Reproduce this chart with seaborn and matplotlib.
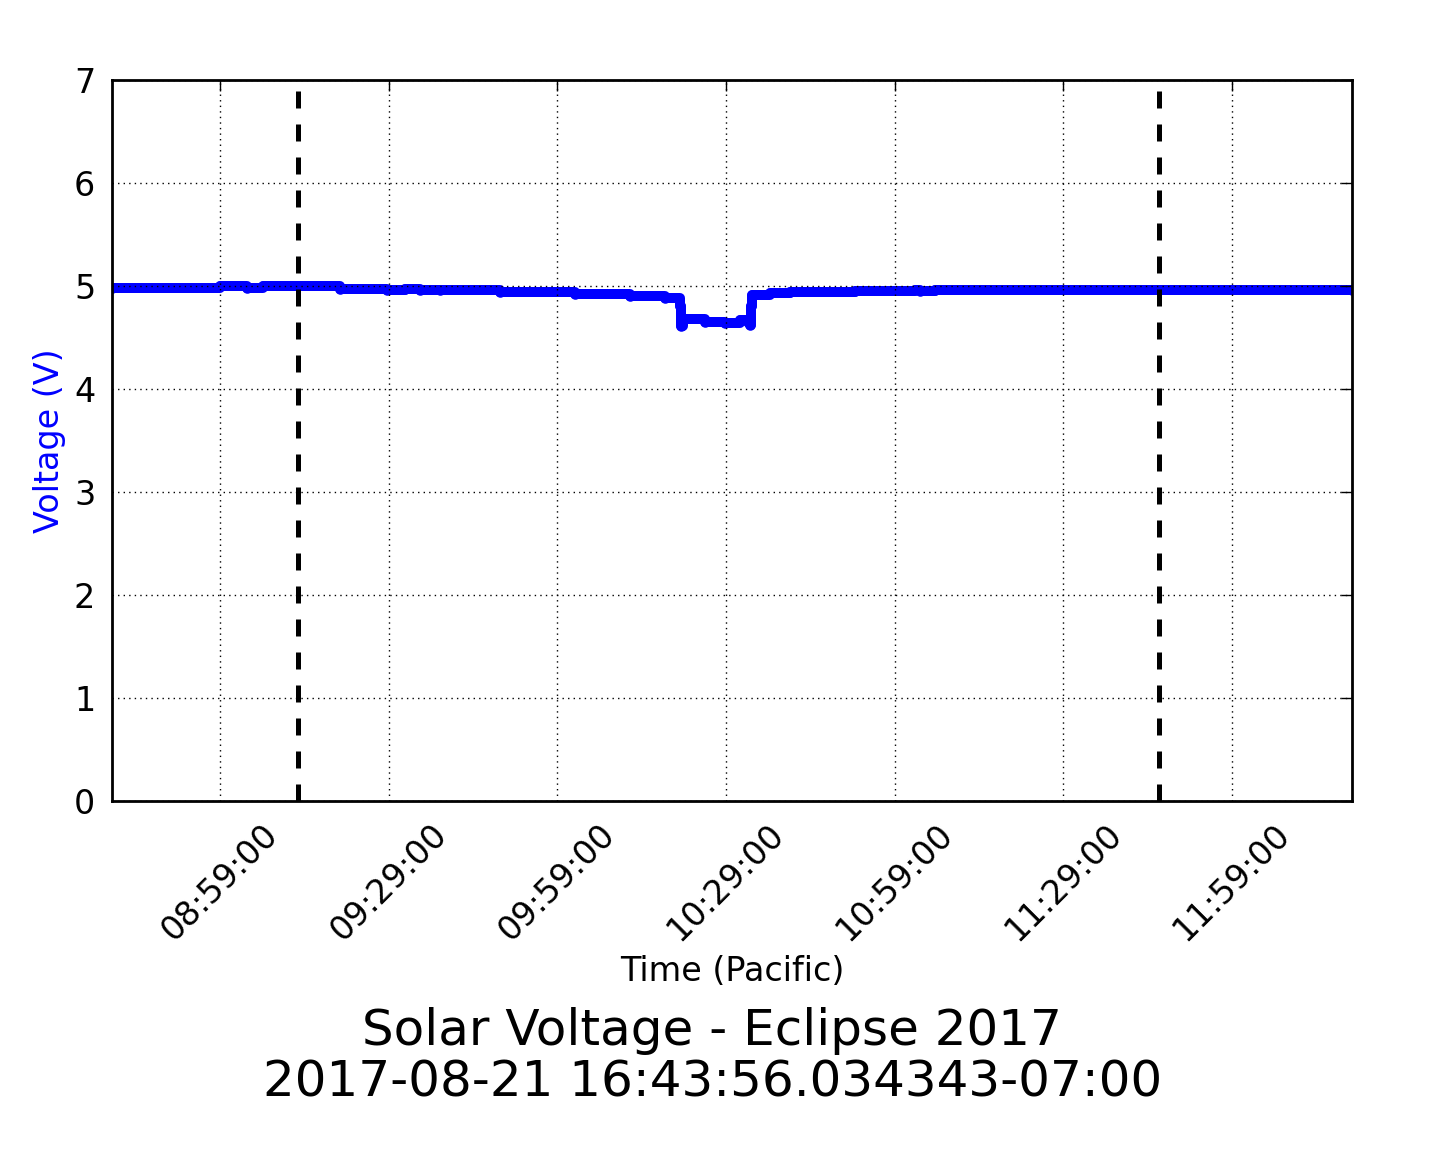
"""
Solar panel voltage during the 2017 eclipse, redrawn with seaborn.
"""

import matplotlib
matplotlib.use('Agg')
import matplotlib.pyplot as plt
import matplotlib.dates as mdates
import seaborn as sns
import pandas as pd

# --- Data ---
day = "2017-08-21 "
sample_times = [
    "08:39:47", "08:59:00", "09:03:48", "09:06:39", "09:20:20", "09:28:42",
    "09:31:55", "09:34:34", "09:38:08", "09:48:48", "10:02:08", "10:11:56",
    "10:18:09", "10:20:49", "10:21:00", "10:21:21", "10:25:16", "10:28:50",
    "10:31:30", "10:32:55", "10:33:16", "10:33:27", "10:33:38", "10:36:50",
    "10:40:23", "10:51:57", "11:02:37", "11:03:31", "11:06:11", "12:20:21",
]
voltage = [
    4.98, 5.00, 4.98, 5.00, 4.97, 4.96,
    4.97, 4.96, 4.96, 4.94, 4.925, 4.90,
    4.885, 4.81, 4.61, 4.68, 4.655, 4.645,
    4.665, 4.655, 4.625, 4.81, 4.91, 4.93,
    4.94, 4.955, 4.965, 4.955, 4.965, 4.965,
]
eclipse_marks = ["09:12:52", "11:46:05"]
tick_times = ["08:59:00", "09:29:00", "09:59:00", "10:29:00",
              "10:59:00", "11:29:00", "11:59:00"]
y_ticks = [0, 1, 2, 3, 4, 5, 6, 7]

df = pd.DataFrame({
    'time': pd.to_datetime([day + t for t in sample_times]),
    'volts': voltage,
})

sns.set_style('white')
plt.rcParams['font.family'] = ['DejaVu Sans']
plt.rcParams['text.color'] = 'black'
plt.rcParams['axes.labelcolor'] = 'black'

fig = plt.figure(figsize=(7.15, 5.745), dpi=200)
ax = fig.add_axes([0.0783, 0.3029, 0.9455 - 0.0783, 0.9304 - 0.3029])

sns.lineplot(data=df, x='time', y='volts', ax=ax, color='blue',
             marker='o', markersize=3.8, markeredgewidth=0,
             linewidth=3.6, drawstyle='steps-post', estimator=None)

# eclipse start / end markers
for t in eclipse_marks:
    ax.axvline(pd.Timestamp(day + t), color='black', linewidth=1.8,
               linestyle=(0, (3.4, 3.2)))

ax.set_xlim(df['time'].iloc[0], df['time'].iloc[-1])
ax.set_ylim(0, 7)
ax.set_yticks(y_ticks)
ax.set_xticks(pd.to_datetime([day + t for t in tick_times]))
ax.xaxis.set_major_formatter(mdates.DateFormatter('%H:%M:%S'))

ax.set_axisbelow(False)
ax.grid(True, color='black', linestyle=(0, (1, 3)), linewidth=0.5)
ax.tick_params(direction='in', length=4, width=0.5, top=True, right=True,
               labelsize=12, colors='black', pad=6)
plt.setp(ax.get_xticklabels(), rotation=45, ha='center')
for s in ax.spines.values():
    s.set_visible(True)
    s.set_color('black')
    s.set_linewidth(1.0)

ax.set_xlabel('Time (Pacific)', fontsize=12, labelpad=3)
ax.set_ylabel('Voltage (V)', fontsize=12, color='blue', labelpad=3)

fig.text(0.498, 0.0800, 'Solar Voltage - Eclipse 2017\n2017-08-21 16:43:56.034343-07:00',
         ha='center', va='center', fontsize=18, linespacing=1.1)

fig.savefig('out.png', dpi=200, facecolor='white')
plt.close(fig)
